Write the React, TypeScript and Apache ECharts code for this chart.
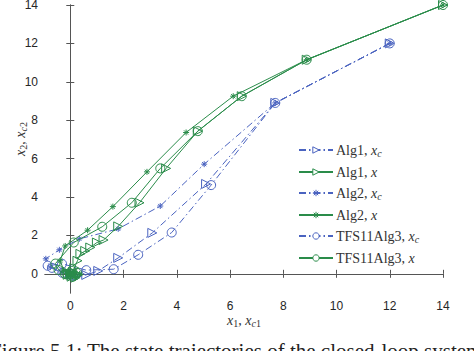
import React, { useEffect, useRef } from "react";
import * as echarts from "echarts";

const xTicks = [0, 2, 4, 6, 8, 10, 12, 14];
const yTicks = [0, 2, 4, 6, 8, 10, 12, 14];

const alg1Xc = [[12, 12], [7.7, 8.9], [5.1, 4.68], [3.08, 2.13], [1.8, 0.83], [1.05, 0.15], [0.6, -0.06], [0.25, -0.12], [0.05, -0.05], [0, 0]];
const alg1X = [[14, 14], [8.88, 11.15], [6.44, 9.25], [4.79, 7.43], [3.6, 5.49], [2.6, 3.7], [1.8, 2.47], [1.25, 1.76], [1.0, 1.63], [0.75, 1.37], [0.56, 1.19], [0.38, 1.04], [0.27, 0.68], [0.15, 0.3], [0.05, 0.0], [0.2, -0.2], [0.3, -0.05], [0.1, 0.1], [-0.1, -0.05], [0.05, -0.15], [0, 0]];
const alg2Xc = [[12, 12], [7.7, 8.9], [5.03, 5.71], [3.38, 3.53], [1.8, 2.34], [0.34, 1.82], [-0.41, 1.25], [-0.92, 0.78], [-0.75, 0.35], [-0.35, 0.1], [0, 0]];
const alg2X = [[14, 14], [8.88, 11.15], [6.12, 9.25], [4.35, 7.36], [2.88, 5.31], [1.6, 3.5], [0.65, 2.27], [-0.19, 1.45], [-0.38, 0.68], [-0.25, 0.2], [-0.05, -0.1], [0.2, -0.2], [0.35, 0.0], [0.15, 0.15], [-0.05, 0.05], [0, 0]];
const tfsXc = [[12, 12], [7.7, 8.9], [5.29, 4.62], [3.81, 2.15], [2.55, 0.99], [1.63, 0.24], [0.6, 0.19], [-0.31, 0.52], [-0.85, 0.42], [-0.69, 0.31], [-0.3, 0.05], [0, 0]];
const tfsX = [[14, 14], [8.88, 11.15], [6.44, 9.25], [4.79, 7.43], [3.38, 5.49], [2.31, 3.7], [1.2, 2.45], [0.13, 1.63], [-0.56, 0.53], [-0.44, 0.2], [-0.2, 0.0], [0.1, -0.15], [0.25, 0.05], [0.05, 0.15], [-0.1, -0.05], [0, 0]];

const BLUE = "#4a63c0";
const GREEN = "#2a8c4a";
const ASTER = "path://M0,-10L0,10M-10,0L10,0M-7,-7L7,7M-7,7L7,-7";

const legendNames = ["Alg1, xc", "Alg1, x", "Alg2, xc", "Alg2, x", "TFS11Alg3, xc", "TFS11Alg3, x"];
const legendColors = [BLUE, GREEN, BLUE, GREEN, BLUE, GREEN];

const legendLabels: Record<string, string> = {
  "Alg1, xc": "{n|Alg1, }{i|x}{s|c}",
  "Alg1, x": "{n|Alg1, }{i|x}",
  "Alg2, xc": "{n|Alg2, }{i|x}{s|c}",
  "Alg2, x": "{n|Alg2, }{i|x}",
  "TFS11Alg3, xc": "{n|TFS11Alg3, }{i|x}{s|c}",
  "TFS11Alg3, x": "{n|TFS11Alg3, }{i|x}",
};

const SERIF = "'Liberation Serif', 'DejaVu Serif', serif";

const richText = (size: number) => ({
  n: { fontFamily: SERIF, fontSize: size, color: "#333", lineHeight: 16 },
  i: { fontFamily: SERIF, fontSize: size, fontStyle: "italic", color: "#333", lineHeight: 16 },
  s: { fontFamily: SERIF, fontSize: size * 0.72, fontStyle: "italic", color: "#333", lineHeight: 8, verticalAlign: "bottom" },
  t: { fontFamily: SERIF, fontSize: size * 0.72, color: "#333", lineHeight: 8, verticalAlign: "bottom" },
});

function mk(name: string, data: number[][], color: string, dashed: boolean, symbol: string, size: number, rotate = 0) {
  return {
    name,
    type: "line",
    data,
    symbol,
    symbolSize: size,
    symbolRotate: rotate,
    showSymbol: true,
    lineStyle: { color, width: 1, type: dashed ? [7, 3, 1.5, 3] : "solid" },
    itemStyle: { color: "transparent", borderColor: color, borderWidth: 1 },
    emphasis: { disabled: true },
    z: dashed ? 2 : 3,
  };
}

export default function App() {
  const ref = useRef<HTMLDivElement>(null);
  useEffect(() => {
    if (!ref.current) return;
    const chart = echarts.init(ref.current, undefined, { renderer: "svg" });
    const axisLine = { show: true, lineStyle: { color: "#555", width: 1 } };
    const tickStyle = { inside: true, length: 4, lineStyle: { color: "#555" } };
    chart.setOption({
      animation: false,
      backgroundColor: "#fff",
      grid: { left: 45, right: 31, top: 5, bottom: 58, outerBoundsMode: "none", containLabel: false },
      xAxis: [
        {
          type: "value", min: -0.95, max: 14,
          axisLine, splitLine: { show: false },
          axisTick: { ...tickStyle, customValues: xTicks },
          axisLabel: { customValues: xTicks, fontFamily: "'Liberation Sans', Arial, sans-serif", fontSize: 12, color: "#262626", margin: 7 },
          name: "{i|x}{t|1}{n|, }{i|x}{s|c}{t|1}",
          nameLocation: "middle", nameGap: 19, nameMoveOverlap: false,
          nameTextStyle: { rich: richText(14) },
        },
        {
          type: "value", min: -0.95, max: 14, position: "top",
          axisLine, splitLine: { show: false },
          axisTick: { ...tickStyle, customValues: xTicks },
          axisLabel: { show: false },
        },
      ],
      yAxis: [
        {
          type: "value", min: -1, max: 14,
          axisLine, splitLine: { show: false },
          axisTick: { ...tickStyle, customValues: yTicks },
          axisLabel: { customValues: yTicks, fontFamily: "'Liberation Sans', Arial, sans-serif", fontSize: 12, color: "#262626", margin: 7 },
          name: "{i|x}{t|2}{n|, }{i|x}{s|c}{t|2}",
          nameLocation: "middle", nameGap: 17, nameRotate: 90, nameMoveOverlap: false,
          nameTextStyle: { rich: richText(14), padding: [0, 0, 0, 20] },
        },
        {
          type: "value", min: -1, max: 14, position: "right",
          axisLine, splitLine: { show: false },
          axisTick: { ...tickStyle, customValues: yTicks },
          axisLabel: { show: false },
        },
      ],
      legend: {
        orient: "vertical", left: 293, top: 138, itemGap: 7, itemWidth: 34, itemHeight: 8,
        itemStyle: { color: "#ffffff", borderWidth: 1 },
        formatter: (name: string) => legendLabels[name] || name,
        textStyle: { rich: richText(14), padding: [0, 0, 0, -2] },
        data: legendNames.map((name, k) => ({
          name,
          itemStyle: { color: "#ffffff", borderColor: legendColors[k], borderWidth: 1 },
        })),
      },
      series: [
        mk("Alg1, xc", alg1Xc, BLUE, true, "triangle", 9, -90),
        mk("Alg1, x", alg1X, GREEN, false, "triangle", 9, -90),
        mk("Alg2, xc", alg2Xc, BLUE, true, ASTER, 6),
        mk("Alg2, x", alg2X, GREEN, false, ASTER, 6),
        mk("TFS11Alg3, xc", tfsXc, BLUE, true, "circle", 9),
        mk("TFS11Alg3, x", tfsX, GREEN, false, "circle", 9),
      ],
      graphic: [
        {
          type: "text", left: -10, top: 340,
          style: { text: "Figure 5.1: The state trajectories of the closed-loop system", font: "21px 'Liberation Serif', serif", fill: "#222" },
        },
      ],
    });
    return () => chart.dispose();
  }, []);
  return <div ref={ref} style={{ position: "fixed", left: 0, top: 0, width: 474, height: 351 }} />;
}
